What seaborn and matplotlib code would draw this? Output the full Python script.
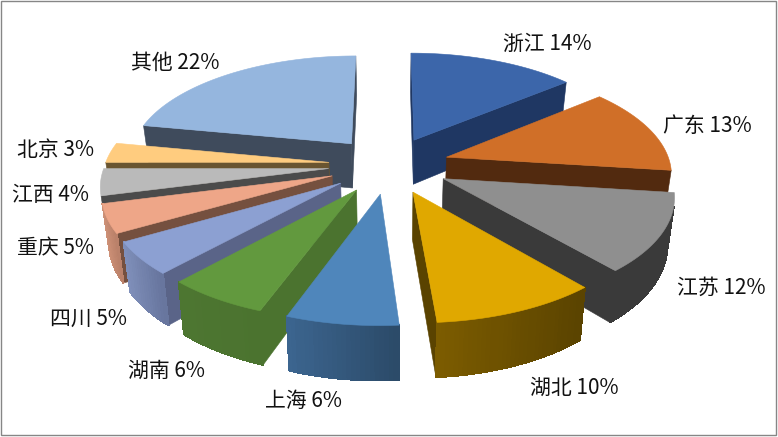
import numpy as np
import matplotlib
matplotlib.use('Agg')
import matplotlib.pyplot as plt
from matplotlib.patches import Polygon, Rectangle
import seaborn as sns

provinces = ['浙江', '广东', '江苏', '湖北', '上海', '湖南', '四川', '重庆', '江西', '北京', '其他']
percent_labels = [14, 13, 12, 10, 6, 6, 5, 5, 4, 3, 22]
# slice sizes as they look in the picture, the printed labels are rounder
shares = [14, 13, 11.7, 10.1, 6.8, 6.2, 4.9, 4.3, 4, 3, 22]

top_colors = ['#3c66aa', '#d06f28', '#8f8f8f', '#e0a800', '#4f86bb', '#62993e',
              '#8ca0d2', '#eea688', '#bababa', '#ffcc7f', '#95b6de']
wall_colors = ['#1f3763', '#522a0f', '#3a3a3a', '#5a4300', '#2b4a68', '#4b732f',
               '#5a6488', '#75503f', '#4b4b4b', '#6a5530', '#3f4b5c']
# rim shading, left to right on screen
rim_left = ['#1f3763', '#522a0f', '#3a3a3a', '#7c5c00', '#3c658f', '#4d7631',
            '#7f8fba', '#cf9278', '#a0a0a0', '#6a5530', '#3f4b5c']
rim_right = ['#1f3763', '#522a0f', '#3a3a3a', '#5a4300', '#2b4a68', '#4b732f',
             '#66749c', '#b98069', '#8a8a8a', '#6a5530', '#3f4b5c']

label_pos = [(547, 44), (707, 126), (721, 288), (574, 388), (304, 401), (167, 371),
             (89, 319), (56, 248), (51, 195), (56, 150), (175, 63)]

# projection of the tilted disc, all in pixels
CX, CY = 389, 165
AX_X, AX_Y = 224, 105
PERSP = 0.135
EXPLODE = 0.27
DEPTH = 45.5
BOTTOM_SHRINK = 0.975


def project(x, y, bottom=False):
    s = 1 / (1 + PERSP * y)
    px = AX_X * x * s
    py = CY - AX_Y * y * s
    if bottom:
        return CX + px * BOTTOM_SHRINK, py + DEPTH * s
    return CX + px, py


sns.set_theme(style='white')
plt.rcParams['font.family'] = ['Noto Sans CJK SC', 'DejaVu Sans']

fig = plt.figure(figsize=(7.78, 4.37), dpi=100)
ax = fig.add_axes([0, 0, 1, 1])

# pie gives the wedge angles, the perspective faces are then built from them
wedges, _ = ax.pie(shares, startangle=90, counterclock=False)
angles = [(w.theta1, w.theta2) for w in wedges]
for w in wedges:
    w.remove()

ax.set_aspect('auto')
ax.set_xlim(0, 778)
ax.set_ylim(437, 0)
ax.axis('off')
ax.add_patch(Rectangle((1, 1), 775, 434, fill=False, edgecolor='#868686', lw=1, zorder=0))


def face_visible(pts):
    # outward faces run one way round on screen
    p = np.array(pts)
    x, y = p[:, 0], p[:, 1]
    return np.sum(x * np.roll(y, -1) - np.roll(x, -1) * y) > 0


def draw_wedge(i, zorder):
    t1, t2 = angles[i]
    mid = np.radians((t1 + t2) / 2)
    ox, oy = EXPLODE * np.cos(mid), EXPLODE * np.sin(mid)
    th = np.radians(np.linspace(t1, t2, max(int(t2 - t1), 4) + 1))
    xs = ox + np.cos(th)
    ys = oy + np.sin(th)

    apex_top = project(ox, oy)
    apex_bot = project(ox, oy, True)
    rim_top = [project(x, y) for x, y in zip(xs, ys)]
    rim_bot = [project(x, y, True) for x, y in zip(xs, ys)]

    # radial cut faces
    q1 = [apex_top, rim_top[0], rim_bot[0], apex_bot]
    q2 = [rim_top[-1], apex_top, apex_bot, rim_bot[-1]]
    for q in (q1, q2):
        if face_visible(q):
            ax.add_patch(Polygon(q, closed=True, facecolor=wall_colors[i],
                                 edgecolor=wall_colors[i], lw=0.4, zorder=zorder))

    # outer rim, shaded left to right
    n = len(xs) - 1
    blend = sns.blend_palette([rim_left[i], rim_right[i]], 32)
    xmin = min(p[0] for p in rim_top)
    xmax = max(p[0] for p in rim_top)
    for k in range(n):
        q = [rim_top[k], rim_top[k + 1], rim_bot[k + 1], rim_bot[k]]
        if not face_visible(q):
            continue
        f = ((rim_top[k][0] + rim_top[k + 1][0]) / 2 - xmin) / max(xmax - xmin, 1)
        c = blend[int(np.clip(f * 31, 0, 31))]
        # no antialias here, it leaves stripes between the strips
        ax.add_patch(Polygon(q, closed=True, facecolor=c, edgecolor=c, lw=0.8,
                             antialiased=False, zorder=zorder))

    # top face
    ax.add_patch(Polygon([apex_top] + rim_top, closed=True, facecolor=top_colors[i],
                         edgecolor=top_colors[i], lw=0.4, zorder=zorder + 0.5))


def wedge_depth(i):
    t1, t2 = angles[i]
    mid = np.radians((t1 + t2) / 2)
    return -(EXPLODE + 0.6) * np.sin(mid)


order = sorted(range(len(shares)), key=wedge_depth)
for z, i in enumerate(order):
    draw_wedge(i, 2 + z)

for name, val, (x, y) in zip(provinces, percent_labels, label_pos):
    ax.text(x, y, f'{name} {val}%', ha='center', va='center', fontsize=15,
            color='#111111', zorder=50)

fig.savefig('out.png', dpi=100)
plt.close(fig)
